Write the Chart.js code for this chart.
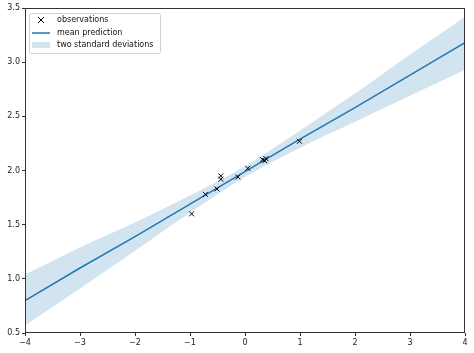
<!DOCTYPE html>
<html>
<head>
<meta charset="utf-8">
<script src="https://cdn.jsdelivr.net/npm/chart.js@4"></script>
<style>
  html, body { margin: 0; padding: 0; background: #fff; }
  #wrap { width: 474px; height: 353px; }
</style>
</head>
<body>
<div id="wrap"><canvas id="gp"></canvas></div>
<script>
// values
const gridX  = [-4, -3, -2, -1, 0, 1, 2, 3, 4];
const meanY  = [0.80, 1.10, 1.39, 1.69, 1.99, 2.29, 2.58, 2.88, 3.18];
const upperY = [1.04, 1.29, 1.52, 1.77, 2.04, 2.37, 2.71, 3.07, 3.42];
const lowerY = [0.57, 0.91, 1.26, 1.61, 1.94, 2.21, 2.45, 2.69, 2.93];

const obsX = [-0.97, -0.72, -0.51, -0.44, -0.44, -0.13, 0.05, 0.32, 0.36, 0.38, 0.99];
const obsY = [1.60, 1.78, 1.83, 1.95, 1.92, 1.94, 2.02, 2.10, 2.09, 2.11, 2.27];

const legendLabels = ['observations', 'mean prediction', 'two standard deviations'];

const blue = '#1f77b4';
const bandFill = 'rgba(31,119,180,0.2)';
const font = { family: 'DejaVu Sans', size: 8 };

const pts = (xs, ys) => xs.map((x, i) => ({ x: x, y: ys[i] }));

// axes frame (all four spines)
const frame = {
  id: 'frame',
  afterDatasetsDraw(chart) {
    const a = chart.chartArea, c = chart.ctx;
    c.save();
    c.strokeStyle = '#333';
    c.lineWidth = 1;
    c.strokeRect(a.left + 0.5, a.top + 0.5, a.right - a.left - 1, a.bottom - a.top - 1);
    c.restore();
  }
};

// matplotlib style legend inside the axes
const boxLegend = {
  id: 'boxLegend',
  afterDraw(chart) {
    const c = chart.ctx;
    const x0 = 29, y0 = 13, w = 131, h = 40;
    c.save();
    c.fillStyle = 'rgba(255,255,255,0.85)';
    c.strokeStyle = '#d0d0d0';
    c.lineWidth = 1;
    c.beginPath();
    c.roundRect(x0 + 0.5, y0 + 0.5, w, h, 2);
    c.fill();
    c.stroke();

    const rows = [y0 + 7, y0 + 20, y0 + 32];
    // x marker
    c.strokeStyle = '#000';
    c.lineWidth = 1;
    c.beginPath();
    c.moveTo(38, rows[0] - 3); c.lineTo(44, rows[0] + 3);
    c.moveTo(44, rows[0] - 3); c.lineTo(38, rows[0] + 3);
    c.stroke();
    // line
    c.strokeStyle = blue;
    c.lineWidth = 1.5;
    c.beginPath();
    c.moveTo(32, rows[1]); c.lineTo(50, rows[1]);
    c.stroke();
    // patch
    c.fillStyle = bandFill;
    c.fillRect(32, rows[2] - 3, 18, 6);

    c.fillStyle = '#111';
    c.font = '8px "DejaVu Sans"';
    c.textBaseline = 'middle';
    legendLabels.forEach((t, i) => c.fillText(t, 57, rows[i]));
    c.restore();
  }
};

new Chart(document.getElementById('gp'), {
  type: 'scatter',
  data: {
    datasets: [
      {
        label: 'upper', data: pts(gridX, upperY), showLine: true,
        borderWidth: 0, pointRadius: 0, fill: '+1', backgroundColor: bandFill, order: 3,
        cubicInterpolationMode: 'monotone'
      },
      {
        label: 'lower', data: pts(gridX, lowerY), showLine: true,
        borderWidth: 0, pointRadius: 0, fill: false, order: 3,
        cubicInterpolationMode: 'monotone'
      },
      {
        label: legendLabels[1], data: pts(gridX, meanY), showLine: true,
        borderColor: blue, borderWidth: 1.5, pointRadius: 0, fill: false, order: 2
      },
      {
        label: legendLabels[0], data: pts(obsX, obsY),
        pointStyle: 'crossRot', pointRadius: 3.5, borderColor: '#000', borderWidth: 1, order: 1
      }
    ]
  },
  options: {
    responsive: true,
    maintainAspectRatio: false,
    animation: false,
    layout: { padding: { top: 8, right: 9, left: 0, bottom: 0 } },
    plugins: { legend: { display: false }, tooltip: { enabled: false } },
    scales: {
      x: {
        type: 'linear', min: -4, max: 4,
        ticks: {
          stepSize: 1, color: '#222', font: font, padding: 2,
          callback: v => (v < 0 ? '\u2212' + Math.abs(v) : String(v))
        },
        grid: { display: true, drawOnChartArea: false, drawTicks: true, tickLength: 3, color: '#333' },
        border: { display: false },
        afterFit: s => { s.height = 20; }
      },
      y: {
        min: 0.5, max: 3.5,
        ticks: {
          stepSize: 0.5, color: '#222', font: font, padding: 2,
          callback: v => v.toFixed(1)
        },
        grid: { display: true, drawOnChartArea: false, drawTicks: true, tickLength: 3, color: '#333' },
        border: { display: false },
        afterFit: s => { s.width = 25; }
      }
    }
  },
  plugins: [frame, boxLegend]
});
</script>
</body>
</html>
